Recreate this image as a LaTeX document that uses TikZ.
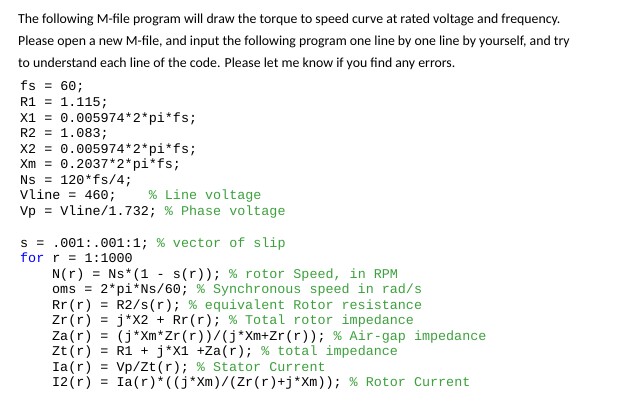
\documentclass[tikz,border=0pt]{standalone}
\usepackage{fontspec}
\setmainfont{Carlito}
\setmonofont{Liberation Mono}
\definecolor{cmt}{RGB}{60,160,60}
\definecolor{kw}{RGB}{0,0,255}
\newcommand{\cm}[1]{\textcolor{cmt}{#1}}
\begin{document}
\begin{tikzpicture}[x=1pt,y=-1pt,
  para/.style={anchor=base west,inner sep=0pt,font=\fontsize{13.8}{16}\selectfont},
  code/.style={anchor=base west,inner sep=0pt,font=\fontsize{13.4}{15}\ttfamily}]
\useasboundingbox (0,0) rectangle (617,409);
\node[para] (p1) at (18,24) {The following M-file program will draw the torque to speed curve at rated voltage and frequency.};
\node[para] (p2) at (18,46) {Please open a new M-file, and input the following program one line by one line by yourself, and try};
\node[para] (p3) at (18,68) {to understand each line of the code. Please let me know if you find any errors.};
\node[code] (c1) at (20,91) {fs = 60;};
\node[code] (c2) at (20,106.5) {R1 = 1.115;};
\node[code] (c3) at (20,122) {X1 = 0.005974*2*pi*fs;};
\node[code] (c4) at (20,137.5) {R2 = 1.083;};
\node[code] (c5) at (20,153) {X2 = 0.005974*2*pi*fs;};
\node[code] (c6) at (20,168.5) {Xm = 0.2037*2*pi*fs;};
\node[code] (c7) at (20,184) {Ns = 120*fs/4;};
\node[code] (c8) at (20,199.5) {Vline = 460;~~~~\cm{\%~Line~voltage}};
\node[code] (c9) at (20,215) {Vp = Vline/1.732;~\cm{\%~Phase~voltage}};
\node[code] (d1) at (20,247) {s = .001:.001:1;~\cm{\%~vector~of~slip}};
\node[code] (d2) at (20,262.5) {\textcolor{kw}{for} r = 1:1000};
\node[code] (d3) at (52,278) {N(r) = Ns*(1 - s(r));~\cm{\%~rotor~Speed,~in~RPM}};
\node[code] (d4) at (52,293.5) {oms = 2*pi*Ns/60;~\cm{\%~Synchronous~speed~in~rad/s}};
\node[code] (d5) at (52,309) {Rr(r) = R2/s(r);~\cm{\%~equivalent~Rotor~resistance}};
\node[code] (d6) at (52,324.5) {Zr(r) = j*X2 + Rr(r);~\cm{\%~Total~rotor~impedance}};
\node[code] (d7) at (52,340) {Za(r) = (j*Xm*Zr(r))/(j*Xm+Zr(r));~\cm{\%~Air-gap~impedance}};
\node[code] (d8) at (52,355.5) {Zt(r) = R1 + j*X1 +Za(r);~\cm{\%~total~impedance}};
\node[code] (d9) at (52,371) {Ia(r) = Vp/Zt(r);~\cm{\%~Stator~Current}};
\node[code] (d10) at (52,386.5) {I2(r) = Ia(r)*((j*Xm)/(Zr(r)+j*Xm));~\cm{\%~Rotor~Current}};
\end{tikzpicture}
\end{document}
